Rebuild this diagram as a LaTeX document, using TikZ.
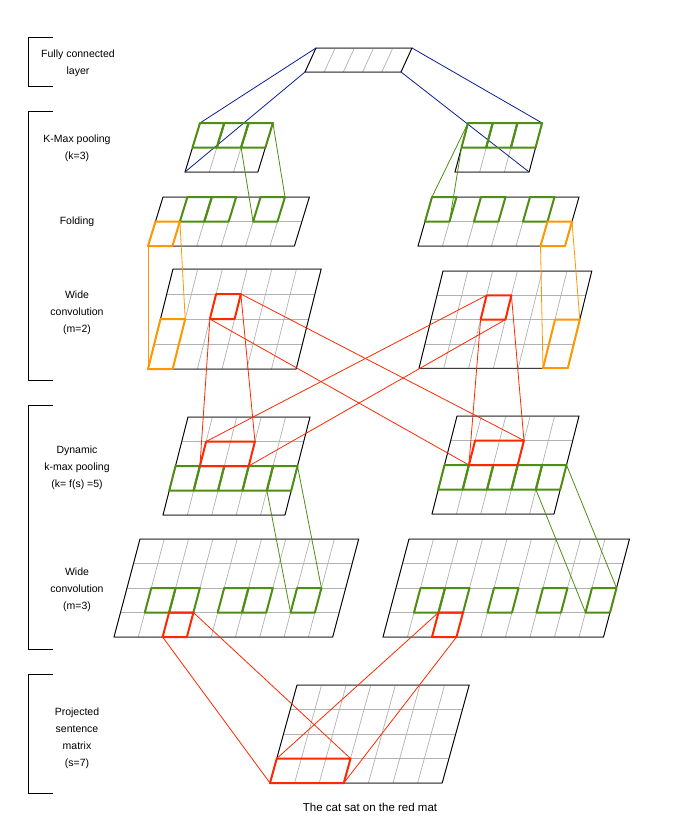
\documentclass[tikz,border=0pt]{standalone}
\usepackage{fontspec}
\setmainfont{Liberation Sans}
\definecolor{cgreen}{RGB}{78,142,18}
\definecolor{corange}{RGB}{255,152,0}
\definecolor{cred}{RGB}{255,40,0}
\definecolor{cblue}{RGB}{10,30,150}
\newcommand\mkgrid[8]{%
  \foreach \i in {0,...,#7}{\foreach \j in {0,...,#8}{%
    \coordinate (#1-\i-\j) at ({#2+\i*#4-\j*#6},{#3+\j*#5});}}
  \fill[white] (#1-0-0)--(#1-#7-0)--(#1-#7-#8)--(#1-0-#8)--cycle;
  \foreach \i in {0,...,#7}{\draw[gridline] (#1-\i-0)--(#1-\i-#8);}
  \foreach \j in {0,...,#8}{\draw[gridline] (#1-0-\j)--(#1-#7-\j);}
  \draw[gridborder] (#1-0-0)--(#1-#7-0)--(#1-#7-#8)--(#1-0-#8)--cycle;}
\newcommand\hl[6]{%
  \pgfmathtruncatemacro\ca{#3+#5}\pgfmathtruncatemacro\rb{#4+#6}%
  \draw[#1] (#2-#3-#4)--(#2-\ca-#4)--(#2-\ca-\rb)--(#2-#3-\rb)--cycle;}
\begin{document}
\begin{tikzpicture}[x=1pt,y=-1pt,
  gridline/.style={gray!60,line width=0.7pt},
  gridborder/.style={black,line width=0.9pt},
  gcell/.style={cgreen,line width=2pt,line join=round},
  ocell/.style={corange,line width=2pt,line join=round},
  rcell/.style={cred,line width=2pt,line join=round},
  bl/.style={cblue,line width=0.8pt},
  gl/.style={cgreen,line width=0.8pt},
  ol/.style={corange,line width=0.8pt},
  rl/.style={cred,line width=0.8pt},
  lab/.style={align=center,font=\fontsize{10.5}{17}\selectfont},
  brk/.style={black,line width=0.9pt}]
\useasboundingbox (0,0) rectangle (678,830);
% grids
\mkgrid{FC}{316}{48}{19.2}{24}{11}{5}{1}
\mkgrid{KL}{200}{123}{24.3}{24.5}{7.5}{3}{2}
\mkgrid{KR}{468}{123}{24.7}{24.5}{6.5}{3}{2}
\mkgrid{FL}{163}{197}{24.4}{24.5}{7.5}{6}{2}
\mkgrid{FR}{432}{197}{24.5}{24.5}{7}{6}{2}
\mkgrid{CL}{173}{269}{24.7}{25}{6.25}{6}{4}
\mkgrid{CR}{443}{271}{24.8}{24.3}{6}{6}{4}
\mkgrid{DL}{188}{417}{24.4}{24.5}{6.25}{5}{4}
\mkgrid{DR}{457}{416}{24.4}{24.5}{6.25}{5}{4}
\mkgrid{WL}{140}{539}{24.3}{24.5}{6.5}{9}{4}
\mkgrid{WR}{409}{539}{24.5}{24.5}{6.5}{9}{4}
\mkgrid{P}{297}{685}{24.6}{24.5}{6.75}{7}{4}
% connectors
\draw[bl] (FC-0-0)--(KL-0-0); \draw[bl] (FC-0-1)--(KL-0-2);
\draw[bl] (FC-5-0)--(KR-3-0); \draw[bl] (FC-5-1)--(KR-3-2);
\draw[gl] (KL-2-1)--(FL-4-1); \draw[gl] (KL-3-0)--(FL-5-0);
\draw[gl] (KR-0-0)--(FR-0-0); \draw[gl] (KR-0-1)--(FR-1-1);
\draw[ol] (FL-0-2)--(CL-0-4); \draw[ol] (FL-1-1)--(CL-1-2);
\draw[ol] (FR-5-2)--(CR-5-4); \draw[ol] (FR-6-1)--(CR-6-2);
\draw[rl] (CL-2-2)--(DL-1-2); \draw[rl] (CL-3-1)--(DL-3-1);
\draw[rl] (CL-3-1)--(DR-3-1); \draw[rl] (CL-2-2)--(DR-1-2);
\draw[rl] (CR-2-1)--(DL-1-1); \draw[rl] (CR-3-2)--(DL-3-2);
\draw[rl] (CR-2-2)--(DR-1-2); \draw[rl] (CR-3-1)--(DR-3-1);
\draw[gl] (DL-4-3)--(WL-7-3); \draw[gl] (DL-5-2)--(WL-8-2);
\draw[gl] (DR-4-3)--(WR-8-3); \draw[gl] (DR-5-2)--(WR-9-2);
\draw[rl] (WL-2-4)--(P-0-4); \draw[rl] (WL-3-3)--(P-3-3);
\draw[rl] (WR-2-3)--(P-0-3); \draw[rl] (WR-3-4)--(P-3-4);
% highlights
\foreach \c in {0,1,2}{\hl{gcell}{KL}{\c}{0}{1}{1}\hl{gcell}{KR}{\c}{0}{1}{1}}
\foreach \c in {1,2,4}{\hl{gcell}{FL}{\c}{0}{1}{1}}
\foreach \c in {0,2,4}{\hl{gcell}{FR}{\c}{0}{1}{1}}
\hl{ocell}{FL}{0}{1}{1}{1} \hl{ocell}{FR}{5}{1}{1}{1}
\hl{ocell}{CL}{0}{2}{1}{2} \hl{ocell}{CR}{5}{2}{1}{2}
\hl{rcell}{CL}{2}{1}{1}{1} \hl{rcell}{CR}{2}{1}{1}{1}
\foreach \c in {0,...,4}{\hl{gcell}{DL}{\c}{2}{1}{1}\hl{gcell}{DR}{\c}{2}{1}{1}}
\hl{rcell}{DL}{1}{1}{2}{1} \hl{rcell}{DR}{1}{1}{2}{1}
\foreach \c in {1,2,4,5,7}{\hl{gcell}{WL}{\c}{2}{1}{1}}
\foreach \c in {1,2,4,6,8}{\hl{gcell}{WR}{\c}{2}{1}{1}}
\hl{rcell}{WL}{2}{3}{1}{1} \hl{rcell}{WR}{2}{3}{1}{1}
\hl{rcell}{P}{0}{3}{3}{1}
% brackets
\draw[brk] (53,37)-|(28,86)--(53,86);
\draw[brk] (53,111)-|(28,380)--(53,380);
\draw[brk] (53,405)-|(28,649)--(53,649);
\draw[brk] (53,674)-|(28,793)--(53,793);
% labels
\node[lab] (l1) at (78,63) {Fully connected\\layer};
\node[lab] (l2) at (77,148) {K-Max pooling\\(k=3)};
\node[lab] (l3) at (77,222) {Folding};
\node[lab] (l4) at (77,313) {Wide\\convolution\\(m=2)};
\node[lab] (l5) at (77,468) {Dynamic\\k-max pooling\\(k= f(s) =5)};
\node[lab] (l6) at (77,590) {Wide\\convolution\\(m=3)};
\node[lab] (l7) at (77,738) {Projected\\sentence\\matrix\\(s=7)};
\node[lab,font=\fontsize{11.5}{14}\selectfont] (t) at (370,807) {The cat sat on the red mat};
\end{tikzpicture}
\end{document}
